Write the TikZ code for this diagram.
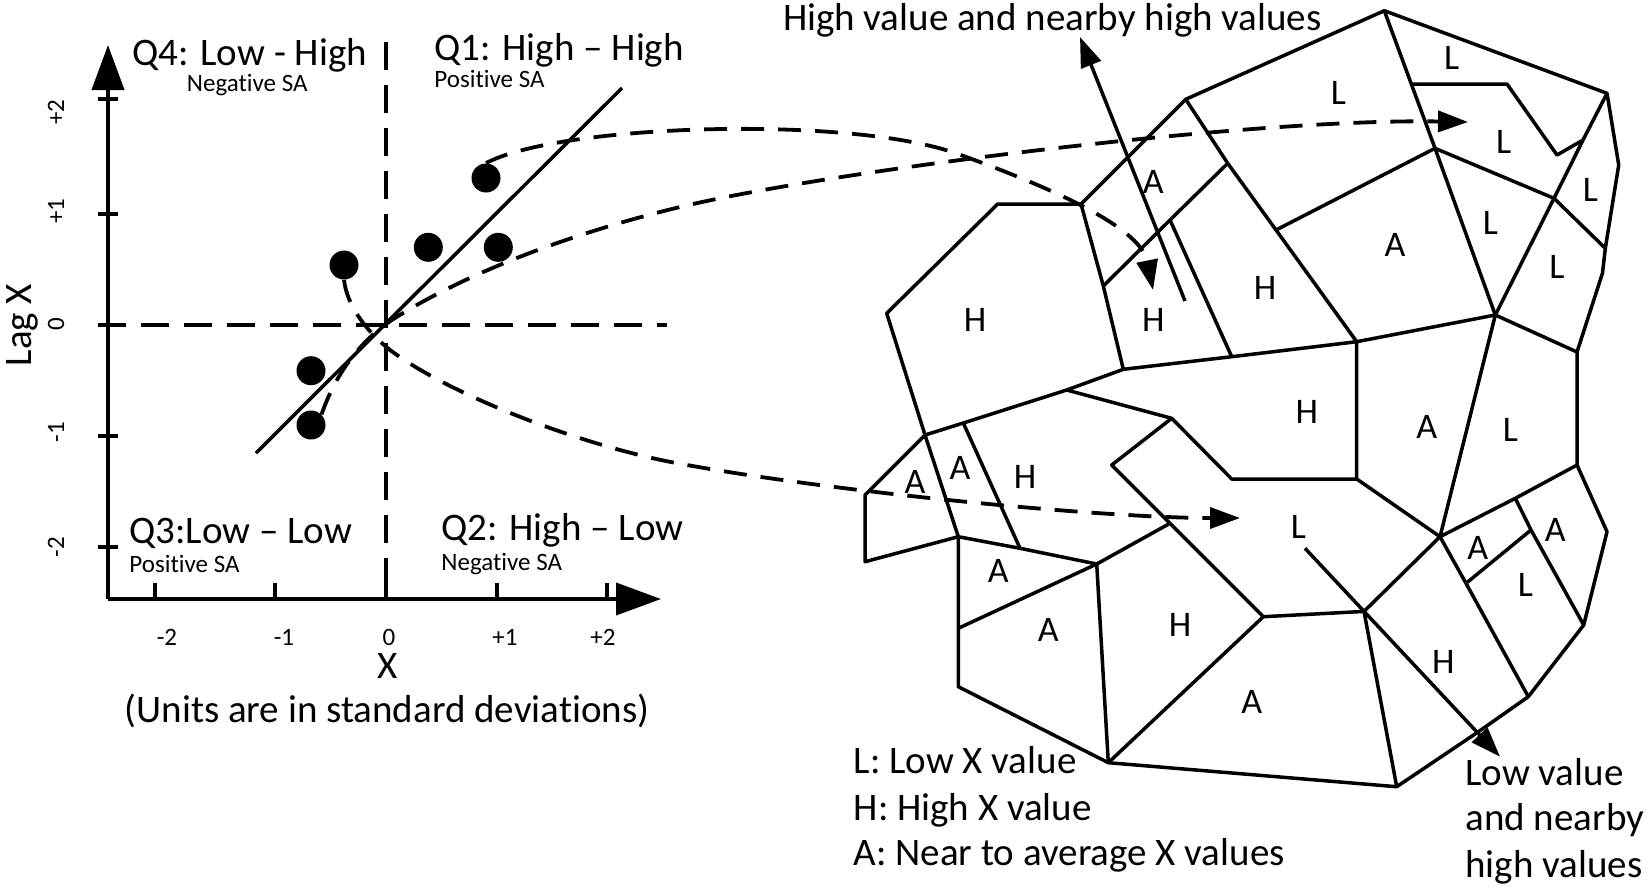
\documentclass[tikz,border=0pt]{standalone}
\usepackage{fontspec}
\setmainfont{Carlito}[Ligatures={NoCommon,NoContextual}]
\usetikzlibrary{arrows.meta}
\begin{document}
\begin{tikzpicture}[x=0.5pt,y=-0.5pt]
\tikzset{
 mapln/.style={line width=1.75pt, line join=round},
 cell/.style={font=\fontsize{18}{20}\selectfont, inner sep=0pt},
 bigtxt/.style={font=\fontsize{19.5}{23}\selectfont, inner sep=0pt},
 satxt/.style={font=\fontsize{12.5}{15}\selectfont, inner sep=0pt},
 ticktxt/.style={font=\fontsize{12.5}{14}\selectfont, inner sep=0pt},
 dot/.style={circle, fill=black, inner sep=0pt, minimum size=14.5pt},
 dcurve/.style={line width=1.9pt, dash pattern=on 11.5pt off 7pt, -{Triangle[length=15pt,width=10.5pt]}},
 axdash/.style={line width=1.9pt, dash pattern=on 14pt off 7.5pt},
 axisln/.style={line width=2pt, -{Triangle[length=22.5pt,width=16pt]}},
 tickln/.style={line width=2pt},
 ptr/.style={line width=1.75pt, -{Triangle[length=15pt,width=10.5pt]}},
}
\path[use as bounding box] (0,0) rectangle (1647,891);

% ---------- scatter plot ----------
\coordinate (O) at (108,599);
\coordinate (ytip) at (108,45);
\coordinate (xtip) at (661,599);
\draw[axisln] (O) -- (ytip);
\draw[axisln] (O) -- (xtip);
\foreach \yy in {99,214,325,436,547} \draw[tickln] (98,\yy) -- (118,\yy);
\foreach \xx in {155,275,386,497,607} \draw[tickln] (\xx,599) -- (\xx,583);
\coordinate (hd1) at (98,325); \coordinate (hd2) at (667,325);
\coordinate (vd1) at (386,42); \coordinate (vd2) at (386,599);
\draw[axdash] (hd1) -- (hd2);
\draw[axdash] (vd1) -- (vd2);
\coordinate (rg1) at (622,88); \coordinate (rg2) at (256,453);
\draw[line width=1.75pt] (rg1) -- (rg2);

\node[dot] (d1) at (486,178) {};
\node[dot] (d2) at (428.3,247.3) {};
\node[dot] (d3) at (498.3,247.3) {};
\node[dot] (d4) at (344,265) {};
\node[dot] (d5) at (311,370.7) {};
\node[dot] (d6) at (311,425) {};

\node[ticktxt, rotate=90] (ly2) at (56,112) {+2};
\node[ticktxt, rotate=90] (ly1) at (56,211) {+1};
\node[ticktxt, rotate=90] (ly0) at (56,324) {0};
\node[ticktxt, rotate=90] (lym1) at (56,432) {-1};
\node[ticktxt, rotate=90] (lym2) at (56,547) {-2};
\node[ticktxt] (lxm2) at (167,637) {-2};
\node[ticktxt] (lxm1) at (284,637) {-1};
\node[ticktxt] (lx0) at (389,637) {0};
\node[ticktxt] (lx1) at (505,637) {+1};
\node[ticktxt] (lx2) at (603,637) {+2};
\node[bigtxt, rotate=90] (lagx) at (22,325) {Lag X};
\node[bigtxt, anchor=base] (xl) at (388,678) {X};
\node[bigtxt, anchor=base] (units) at (387,722) {(Units are in standard deviations)};

\node[bigtxt, anchor=base west] (q4) at (132,65) {Q4: Low - High};
\node[satxt, anchor=base west] (q4s) at (186.5,91) {Negative SA};
\node[bigtxt, anchor=base west] (q1) at (434,60) {Q1: High – High};
\node[satxt, anchor=base west] (q1s) at (434,87) {Positive SA};
\node[bigtxt, anchor=base west] (q3) at (129,543) {Q3:Low – Low};
\node[satxt, anchor=base west] (q3s) at (129,572) {Positive SA};
\node[bigtxt, anchor=base west] (q2) at (441,540) {Q2: High – Low};
\node[satxt, anchor=base west] (q2s) at (441,570) {Negative SA};

% ---------- map vertices ----------
\coordinate (vl) at (886.7,313.3);
\coordinate (va) at (997.7,204);
\coordinate (vb) at (1081,204);
\coordinate (vc) at (1185.7,99.3);
\coordinate (vT) at (1384.3,10.7);
\coordinate (vmm) at (1607,93.3);
\coordinate (vr2) at (1618.7,165);
\coordinate (vrr) at (1605.3,248.3);
\coordinate (vs2) at (1602.5,273);
\coordinate (vqq) at (1577,352);
\coordinate (vff) at (1577,465);
\coordinate (vll) at (1607,531.7);
\coordinate (vii) at (1583.7,625);
\coordinate (vgg) at (1528.3,696.7);
\coordinate (vtt) at (1478,732);
\coordinate (vbb) at (1396.7,786.7);
\coordinate (vx) at (1108.3,762.7);
\coordinate (vv) at (958.3,686.7);
\coordinate (vw) at (958.3,628.3);
\coordinate (vm) at (958.3,536.7);
\coordinate (vo) at (865,561.7);
\coordinate (vn) at (865,495);
\coordinate (vk) at (925,435);
\coordinate (ve) at (1103.3,286);
\coordinate (vd) at (1123.3,369.3);
\coordinate (vf) at (1227.7,163.3);
\coordinate (vh) at (1170,220);
\coordinate (vi) at (1231.7,356.7);
\coordinate (vpp) at (1276,230);
\coordinate (vg) at (1356.7,341.7);
\coordinate (vdd) at (1495.3,315);
\coordinate (vuu) at (1411.3,84);
\coordinate (vvv) at (1507,84);
\coordinate (vww) at (1557,155);
\coordinate (vxx) at (1583,140);
\coordinate (vnn) at (1435,148.3);
\coordinate (voo) at (1554,198.3);
\coordinate (vj) at (1066.7,390);
\coordinate (vr) at (963.3,423);
\coordinate (vs) at (1020,548.3);
\coordinate (vt) at (1096.7,564);
\coordinate (vp) at (1171.7,418.3);
\coordinate (vq) at (1111.7,465);
\coordinate (vu) at (1170,523.3);
\coordinate (vyy) at (1231.7,479);
\coordinate (vee) at (1356.7,479);
\coordinate (vcc) at (1440,536.7);
\coordinate (vz) at (1364,611.4);
\coordinate (vy) at (1263.3,616.7);
\coordinate (vhh) at (1515.3,498.3);
\coordinate (vjj) at (1531,530);
\coordinate (vkk) at (1466,583.3);

% outline
\draw[mapln] (vl) -- (va) -- (vb) -- (vc) -- (vT) -- (vmm) -- (vr2) -- (vrr) -- (vs2) -- (vqq) -- (vff) -- (vll) -- (vii) -- (vgg) -- (vtt) -- (vbb) -- (vx) -- (vv) -- (vw) -- (vm) -- (vo) -- (vn) -- (vk) -- cycle;
% interior edges
\draw[mapln] (vb) -- (ve) -- (vd);
\draw[mapln] (ve) -- (vh) -- (vf);
\draw[mapln] (vc) -- (vf) -- (vpp) -- (vg);
\draw[mapln] (vh) -- (vi);
\draw[mapln] (vd) -- (vi) -- (vg) -- (vdd);
\draw[mapln] (vd) -- (vj) -- (vr) -- (vk);
\draw[mapln] (vT) -- (vuu) -- (vnn);
\draw[mapln] (vuu) -- (vvv) -- (vww) -- (vxx);
\draw[mapln] (vmm) -- (vxx) -- (voo) -- (vdd);
\draw[mapln] (vnn) -- (voo);
\draw[mapln] (vnn) -- (vdd);
\draw[mapln] (vnn) -- (vpp);
\draw[mapln] (voo) -- (vrr);
\draw[mapln] (vdd) -- (vqq);
\draw[mapln] (vdd) -- (vcc);
\draw[mapln] (vg) -- (vee) -- (vcc);
\draw[mapln] (vj) -- (vp) -- (vyy) -- (vee);
\draw[mapln] (vp) -- (vq) -- (vu) -- (vy) -- (vz) -- (vcc);
\draw[mapln] (vz) -- (vbb);
\draw[mapln] (vcc) -- (vhh) -- (vff);
\draw[mapln] (vhh) -- (vjj) -- (vii);
\draw[mapln] (vjj) -- (vkk);
\draw[mapln] (vcc) -- (vkk) -- (vgg);
\draw[mapln] (vy) -- (vx);
\draw[mapln] (vt) -- (vu);
\draw[mapln] (vt) -- (vx);
\draw[mapln] (vr) -- (vs) -- (vt);
\draw[mapln] (vm) -- (vs);
\draw[mapln] (vk) -- (vm);
\draw[mapln] (vw) -- (vt);

% cell labels
\node[cell] (c01) at (1153.3,181.7) {A};
\node[cell] (c02) at (1338.3,93.3) {L};
\node[cell] (c03) at (1451.7,58.3) {L};
\node[cell] (c04) at (1503.7,141.7) {L};
\node[cell] (c05) at (1590.3,190) {L};
\node[cell] (c06) at (1490.3,223.3) {L};
\node[cell] (c07) at (1557,266.7) {L};
\node[cell] (c08) at (1395,245) {A};
\node[cell] (c09) at (1265,288) {H};
\node[cell] (c10) at (975,320) {H};
\node[cell] (c11) at (1153.3,320) {H};
\node[cell] (c12) at (1306.7,411.7) {H};
\node[cell] (c13) at (1426.7,426.7) {A};
\node[cell] (c14) at (1510.3,430) {L};
\node[cell] (c15) at (915,481.7) {A};
\node[cell] (c16) at (960,468.3) {A};
\node[cell] (c17) at (1025,476.7) {H};
\node[cell] (c18) at (1298.3,526.7) {L};
\node[cell] (c19) at (1477.7,548.3) {A};
\node[cell] (c20) at (1555.3,530) {A};
\node[cell] (c21) at (1525.3,585) {L};
\node[cell] (c22) at (998.3,571) {A};
\node[cell] (c23) at (1048.3,630) {A};
\node[cell] (c24) at (1180,625) {H};
\node[cell] (c25) at (1251.7,701.7) {A};
\node[cell] (c26) at (1443.3,661.7) {H};

% pointer arrows and their texts
\coordinate (hptr) at (1185,301);
\coordinate (htip) at (1080,37);
\draw[ptr] (hptr) -- (htip);
\coordinate (lptr) at (1305,548.3);
\coordinate (ltip) at (1500,756.7);
\draw[ptr] (lptr) -- (ltip);
\node[bigtxt, anchor=base west] (hitxt) at (782.6,30) {High value and nearby high values};
\node[bigtxt, anchor=base west] (lo1) at (1465,785) {Low value};
\node[bigtxt, anchor=base west] (lo2) at (1465,830) {and nearby};
\node[bigtxt, anchor=base west] (lo3) at (1465,877) {high values};
\node[bigtxt, anchor=base west] (lg1) at (853.3,773.3) {L: Low X value};
\node[bigtxt, anchor=base west] (lg2) at (853.3,820) {H: High X value};
\node[bigtxt, anchor=base west] (lg3) at (853.3,865) {A: Near to average X values};

% dashed links from the plot to the map
\coordinate (tipH) at (1153,290);
\coordinate (tipL1) at (1468,122);
\coordinate (tipL2) at (1240,518);
\draw[dcurve] (d1.north) .. controls (560,124) and (850,115) .. (958,154) .. controls (1040,183.6) and (1140,225) .. (tipH);
\draw[dcurve] (d6.north east) .. controls (335,375) and (360,340) .. (395,318) .. controls (460,277) and (560,236) .. (680,207) .. controls (830,171) and (1250,118) .. (tipL1);
\draw[dcurve] (d4.south) .. controls (347,305) and (365,330) .. (390,350) .. controls (450,395) and (580,445) .. (676,463) .. controls (826,491) and (1100,518) .. (tipL2);
\end{tikzpicture}
\end{document}
